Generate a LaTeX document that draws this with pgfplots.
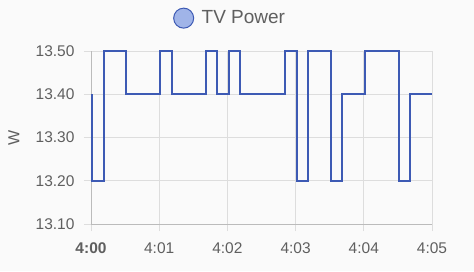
\documentclass[border=0pt]{standalone}
\usepackage{fontspec}
\setmainfont{Liberation Sans}
\usepackage{pgfplots}
\pgfplotsset{compat=1.18}
\definecolor{linec}{HTML}{3D5AB4}
\definecolor{fillc}{HTML}{A0B4E8}
\definecolor{txt}{HTML}{5F5F5F}
\definecolor{gridc}{HTML}{DDDDDD}
\definecolor{axc}{HTML}{BBBBBB}
\definecolor{bg}{HTML}{FAFAFA}
\begin{document}
\begin{tikzpicture}[x=1pt,y=1pt]
\fill[bg] (0,0) rectangle (474,271);
\path[use as bounding box] (0,0) rectangle (474,271);
\begin{axis}[
  at={(91pt,47pt)}, anchor=south west,
  scale only axis, width=341pt, height=173pt,
  xmin=0, xmax=300, ymin=13.1, ymax=13.5,
  clip=false,
  axis lines=left,
  axis line style={-, color=axc, line width=0.8pt},
  xtick={0,60,120,180,240,300},
  xticklabels={\textbf{4:00},4:01,4:02,4:03,4:04,4:05},
  ytick={13.1,13.2,13.3,13.4,13.5},
  yticklabel style={xshift=-6pt, /pgf/number format/.cd, fixed, fixed zerofill, precision=2, assume math mode=true},
  xticklabel style={yshift=-8pt},
  tick label style={font=\fontsize{15.5}{18}\selectfont, text=txt},
  tick align=outside,
  major tick length=7pt,
  tick style={color=gridc, line width=0.8pt},
  grid=major,
  major grid style={color=gridc, line width=0.8pt},
  every axis y label/.style={at={(rel axis cs:-0.226,0.5)}, rotate=90, anchor=center, font=\fontsize{16}{18}\selectfont, text=txt},
  ylabel={W},
  legend style={at={(rel axis cs:0.408,1.19)}, anchor=center, draw=none, fill=none, font=\fontsize{19}{22}\selectfont, text=txt},
  legend image code/.code={\draw[linec, fill=fillc, line width=1pt] (0pt,0pt) circle (10pt); \path (15pt,0pt);},
]
\addplot[const plot, color=linec, line width=2pt, mark=none] coordinates {
(1,13.4) (1,13.2) (11,13.5) (31,13.4) (61,13.5) (71,13.4) (101,13.5) (111,13.4)
(121,13.5) (131,13.4) (171,13.5) (181,13.2) (191,13.5) (211,13.2) (221,13.4)
(241,13.5) (271,13.2) (281,13.4) (300,13.4)
};
\addlegendentry{TV Power}
\end{axis}
\end{tikzpicture}
\end{document}
